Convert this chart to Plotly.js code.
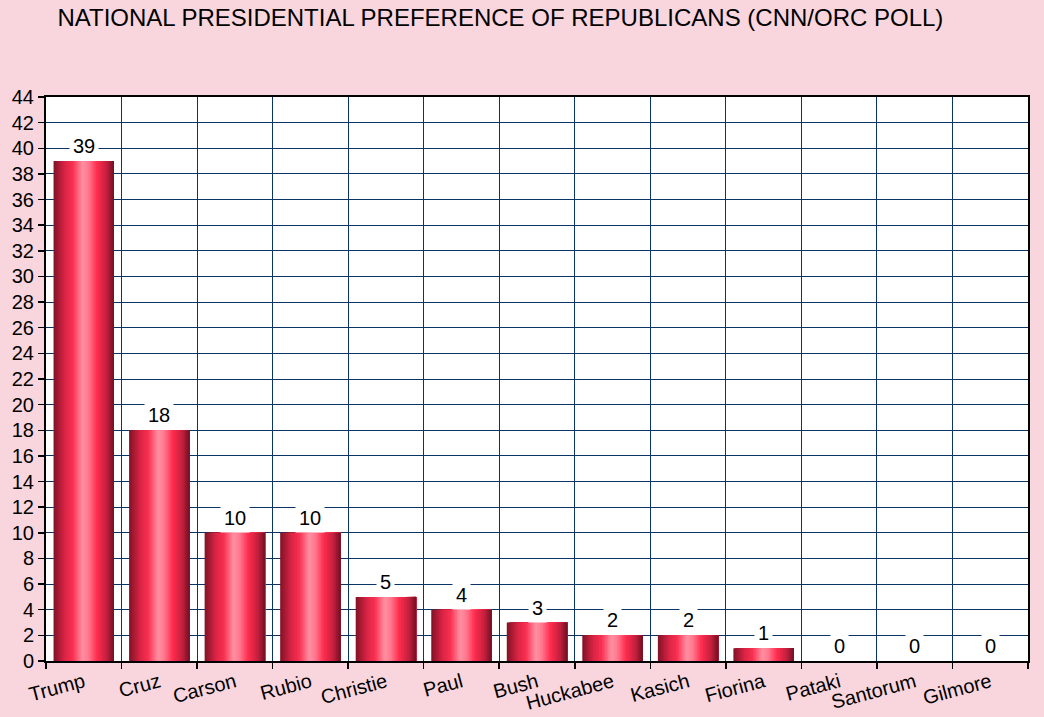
<!DOCTYPE html>
<html>
<head>
<meta charset="utf-8">
<script src="https://cdn.plot.ly/plotly-3.0.1.min.js"></script>
<style>
  html, body { margin: 0; padding: 0; background: #f9d6dd; }
  #chart { width: 1044px; height: 717px; }
</style>
</head>
<body>
<div id="chart"></div>
<script>
// ---- Data ----
const candidates = ["Trump", "Cruz", "Carson", "Rubio", "Christie", "Paul", "Bush",
                    "Huckabee", "Kasich", "Fiorina", "Pataki", "Santorum", "Gilmore"];
const support = [39, 18, 10, 10, 5, 4, 3, 2, 2, 1, 0, 0, 0];
const yTicks = [0, 2, 4, 6, 8, 10, 12, 14, 16, 18, 20, 22, 24, 26, 28, 30, 32, 34, 36, 38, 40, 42, 44];
const chartTitle = "NATIONAL PRESIDENTIAL PREFERENCE OF REPUBLICANS (CNN/ORC POLL)";

// ---- Cylinder shading for bars (styling) ----
const stops = [
  [0.00, [0x80, 0x12, 0x26]],
  [0.18, [0xd8, 0x24, 0x44]],
  [0.32, [0xfa, 0x30, 0x52]],
  [0.48, [0xff, 0x90, 0xa2]],
  [0.58, [0xff, 0x78, 0x8e]],
  [0.72, [0xff, 0x2c, 0x4e]],
  [0.88, [0xc4, 0x20, 0x3e]],
  [1.00, [0x70, 0x10, 0x22]]
];
function shade(t) {
  for (let i = 0; i < stops.length - 1; i++) {
    const [p0, c0] = stops[i], [p1, c1] = stops[i + 1];
    if (t >= p0 && t <= p1) {
      const f = (t - p0) / (p1 - p0);
      const c = c0.map((v, k) => Math.round(v + (c1[k] - v) * f));
      return `rgb(${c[0]},${c[1]},${c[2]})`;
    }
  }
  return "rgb(128,18,38)";
}
const barWidth = 0.8;
const nStrips = 40;
const stripW = barWidth / nStrips;
const traces = [];
for (let i = 0; i < nStrips; i++) {
  // each strip runs from its start to the bar's right edge; later strips paint over
  traces.push({
    type: "bar",
    x: candidates,
    y: support,
    width: candidates.map(() => barWidth - i * stripW),
    offset: candidates.map(() => -barWidth / 2 + i * stripW),
    marker: { color: shade((i + 0.5) / nStrips), line: { width: 0 } },
    hoverinfo: "skip",
    showlegend: false
  });
}

const fontFam = "Liberation Sans, Arial, sans-serif";
const annotations = candidates.map((c, i) => ({
  x: c, y: support[i], xref: "x", yref: "y",
  text: String(support[i]),
  showarrow: false, yanchor: "bottom",
  bgcolor: "white", borderpad: 3,
  font: { family: fontFam, size: 20, color: "black" }
}));

const layout = {
  width: 1044, height: 717,
  paper_bgcolor: "#f9d6dd",
  plot_bgcolor: "white",
  margin: { l: 46, r: 16, t: 97, b: 56 },
  barmode: "overlay",
  title: {
    text: chartTitle,
    xref: "container", x: 0.055, xanchor: "left",
    yref: "container", y: 0.976, yanchor: "middle",
    font: { family: fontFam, size: 24, color: "black" }
  },
  font: { family: fontFam, size: 20, color: "black" },
  xaxis: {
    type: "category",
    tickson: "boundaries",
    ticks: "outside", ticklen: 6, tickcolor: "black", tickwidth: 1.5,
    showgrid: true, gridcolor: "#0a3366", gridwidth: 1,
    showline: true, linecolor: "black", linewidth: 2, mirror: true,
    tickangle: -15,
    tickfont: { size: 20, color: "black" },
    range: [-0.5, candidates.length - 0.5]
  },
  yaxis: {
    range: [0, 44],
    tickvals: yTicks,
    ticktext: yTicks.map(String),
    ticks: "outside", ticklen: 6, tickcolor: "black", tickwidth: 1.5,
    showgrid: true, gridcolor: "#0a3366", gridwidth: 1,
    showline: true, linecolor: "black", linewidth: 2, mirror: true,
    zeroline: false,
    tickfont: { size: 20, color: "black" }
  },
  annotations: annotations
};

Plotly.newPlot("chart", traces, layout, { displayModeBar: false, staticPlot: true });
</script>
</body>
</html>
